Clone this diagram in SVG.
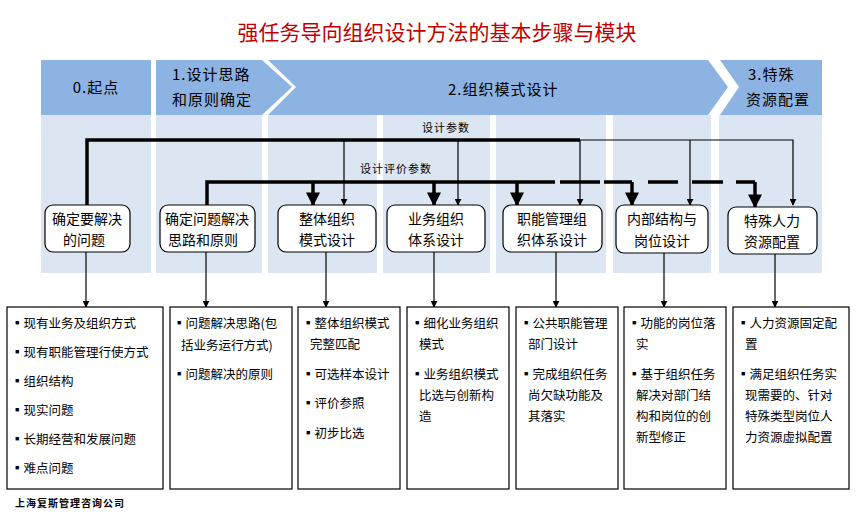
<svg xmlns="http://www.w3.org/2000/svg" width="861" height="524" viewBox="0 0 861 524">
<defs>
<marker id="ah" viewBox="0 0 10 10" refX="9" refY="5" markerWidth="7" markerHeight="7" markerUnits="userSpaceOnUse" orient="auto"><path d="M0,0L10,5L0,10z" fill="#000"/></marker>
<marker id="ahb" viewBox="0 0 10 10" refX="9" refY="5" markerWidth="4" markerHeight="4" orient="auto"><path d="M0,0L10,5L0,10z" fill="#000"/></marker>
</defs>
<style>
text{font-family:"Noto Sans CJK SC","Liberation Sans",sans-serif;fill:#000}
.hd{fill:#8db3e2}.pn{fill:#dce6f2}
.ht{font-size:15px;letter-spacing:1px}
.nd{fill:#fff;stroke:#000;stroke-width:1.2}
.nt{font-size:14px;text-anchor:middle}
.bx{fill:#fff;stroke:#000;stroke-width:1.2}
.bt{font-size:12.5px}
.thin{fill:none;stroke:#000;stroke-width:1.2}
.thk{fill:none;stroke:#000;stroke-width:3.5}
</style>
<rect width="861" height="524" fill="#fff"/>
<text x="437" y="40" text-anchor="middle" style="font-size:21px;fill:#c00000">强任务导向组织设计方法的基本步骤与模块</text>
<g id="header">
<rect class="hd" x="41" y="60" width="110" height="55"/>
<polygon class="hd" points="156,60 262,60 292,87 262,115 156,115"/>
<polygon class="hd" points="268,60 708,60 728,87 708,115 268,115 296,87"/>
<polygon class="hd" points="720,60 822,60 822,115 720,115 739,87"/>
<text class="ht" x="96" y="93" text-anchor="middle">0.起点</text>
<text class="ht" x="172" y="80">1.设计思路</text>
<text class="ht" x="172" y="105">和原则确定</text>
<text class="ht" x="448" y="95">2.组织模式设计</text>
<text class="ht" x="748" y="80">3.特殊</text>
<text class="ht" x="746" y="105">资源配置</text>
</g>
<g id="panels">
<rect class="pn" x="41" y="115" width="110" height="158"/>
<rect class="pn" x="156" y="115" width="106" height="158"/>
<rect class="pn" x="268" y="115" width="109" height="158"/>
<rect class="pn" x="383" y="115" width="107" height="158"/>
<rect class="pn" x="496" y="115" width="110" height="158"/>
<rect class="pn" x="613" y="115" width="98" height="158"/>
<rect class="pn" x="719" y="115" width="103" height="158"/>
</g>
<g id="connectors">
<path class="thk" d="M87,205V140H580"/>
<path class="thin" d="M580,140H793V205" marker-end="url(#ah)"/>
<path class="thin" d="M344,140V205" marker-end="url(#ah)"/>
<path class="thin" d="M458,140V205" marker-end="url(#ah)"/>
<path class="thin" d="M580,140V205" marker-end="url(#ah)"/>
<path class="thin" d="M690,140V205" marker-end="url(#ah)"/>
<path class="thk" d="M207,205V182H555"/>
<path class="thk" d="M560,182H600M604,182H632M648,182H678M692,182H723M736,182H755"/>
<path class="thk" d="M313,182V205" marker-end="url(#ahb)"/>
<path class="thk" d="M434,182V205" marker-end="url(#ahb)"/>
<path class="thk" d="M517,182V205" marker-end="url(#ahb)"/>
<path class="thk" d="M632,182V205" marker-end="url(#ahb)"/>
<path class="thk" d="M755,182V207" marker-end="url(#ahb)"/>
<path class="thin" d="M86,252V307" marker-end="url(#ah)"/>
<path class="thin" d="M206,252V307" marker-end="url(#ah)"/>
<path class="thin" d="M326,252V307" marker-end="url(#ah)"/>
<path class="thin" d="M434,252V307" marker-end="url(#ah)"/>
<path class="thin" d="M556,252V307" marker-end="url(#ah)"/>
<path class="thin" d="M664,252V307" marker-end="url(#ah)"/>
<path class="thin" d="M775,254V307" marker-end="url(#ah)"/>
<text x="446" y="132" text-anchor="middle" style="font-size:11px;letter-spacing:1px">设计参数</text>
<text x="396" y="173" text-anchor="middle" style="font-size:11px;letter-spacing:1px">设计评价参数</text>
</g>
<g id="n0"><rect class="nd" x="45" y="205" width="85" height="47" rx="8"/><text class="nt" x="87" y="224">确定要解决</text><text class="nt" x="84" y="245">的问题</text></g>
<g id="n1"><rect class="nd" x="160" y="205" width="95" height="47" rx="8"/><text class="nt" x="207" y="224">确定问题解决</text><text class="nt" x="203" y="245">思路和原则</text></g>
<g id="n2"><rect class="nd" x="278" y="205" width="98" height="47" rx="8"/><text class="nt" x="327" y="224">整体组织</text><text class="nt" x="327" y="245">模式设计</text></g>
<g id="n3"><rect class="nd" x="387" y="205" width="98" height="47" rx="8"/><text class="nt" x="436" y="224">业务组织</text><text class="nt" x="436" y="245">体系设计</text></g>
<g id="n4"><rect class="nd" x="503" y="205" width="99" height="47" rx="8"/><text class="nt" x="552" y="224">职能管理组</text><text class="nt" x="552" y="245">织体系设计</text></g>
<g id="n5"><rect class="nd" x="616" y="205" width="92" height="48" rx="8"/><text class="nt" x="662" y="224">内部结构与</text><text class="nt" x="662" y="246">岗位设计</text></g>
<g id="n6"><rect class="nd" x="728" y="207" width="89" height="47" rx="8"/><text class="nt" x="772" y="226">特殊人力</text><text class="nt" x="772" y="247">资源配置</text></g>
<g id="b0" class="bt"><rect class="bx" x="7" y="307" width="156" height="182"/>
<text x="11" y="328">▪现有业务及组织方式</text><text x="11" y="357">▪现有职能管理行使方式</text><text x="11" y="386">▪组织结构</text><text x="11" y="415">▪现实问题</text><text x="11" y="444">▪长期经营和发展问题</text><text x="11" y="473">▪难点问题</text></g>
<g id="b1" class="bt"><rect class="bx" x="170" y="307" width="122" height="182"/>
<text x="173" y="328">▪问题解决思路(包</text><text x="181" y="350">括业务运行方式)</text><text x="173" y="379">▪问题解决的原则</text></g>
<g id="b2" class="bt"><rect class="bx" x="298" y="307" width="102" height="182"/>
<text x="302" y="328">▪整体组织模式</text><text x="310" y="349">完整匹配</text><text x="302" y="379">▪可选样本设计</text><text x="302" y="408">▪评价参照</text><text x="302" y="438">▪初步比选</text></g>
<g id="b3" class="bt"><rect class="bx" x="407" y="307" width="102" height="182"/>
<text x="411" y="328">▪细化业务组织</text><text x="419" y="349">模式</text><text x="411" y="379">▪业务组织模式</text><text x="419" y="400">比选与创新构</text><text x="419" y="421">造</text></g>
<g id="b4" class="bt"><rect class="bx" x="516" y="307" width="102" height="182"/>
<text x="520" y="328">▪公共职能管理</text><text x="528" y="349">部门设计</text><text x="520" y="379">▪完成组织任务</text><text x="528" y="400">尚欠缺功能及</text><text x="528" y="421">其落实</text></g>
<g id="b5" class="bt"><rect class="bx" x="624" y="307" width="102" height="182"/>
<text x="628" y="328">▪功能的岗位落</text><text x="636" y="349">实</text><text x="628" y="379">▪基于组织任务</text><text x="636" y="400">解决对部门结</text><text x="636" y="421">构和岗位的创</text><text x="636" y="442">新型修正</text></g>
<g id="b6" class="bt"><rect class="bx" x="733" y="307" width="116" height="182"/>
<text x="737" y="328">▪人力资源固定配</text><text x="745" y="349">置</text><text x="737" y="379">▪满足组织任务实</text><text x="745" y="400">现需要的、针对</text><text x="745" y="421">特殊类型岗位人</text><text x="745" y="442">力资源虚拟配置</text></g>
<text x="15" y="507" style="font-size:10px;font-weight:bold;letter-spacing:1px">上海复斯管理咨询公司</text>
</svg>
